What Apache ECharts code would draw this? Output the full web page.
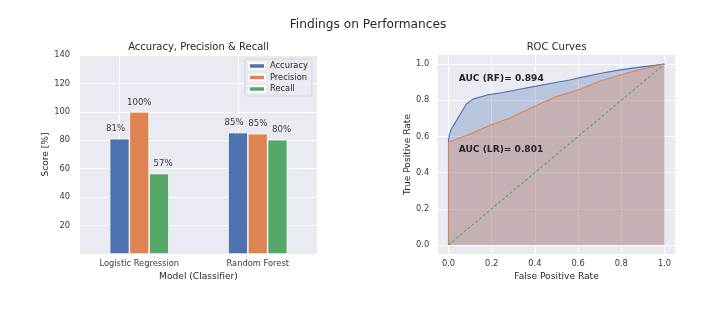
<!DOCTYPE html>
<html>
<head>
<meta charset="utf-8">
<script src="https://cdn.jsdelivr.net/npm/echarts@6/dist/echarts.min.js"></script>
<style>
html,body{margin:0;padding:0;background:#fff;}
#chart{width:720px;height:333px;}
</style>
</head>
<body>
<div id="chart"></div>
<script>
// ---- Data ----
const categories = ['Logistic Regression', 'Random Forest'];
const accuracy = [81.1, 85.4];
const precision = [100, 84.6];
const recall = [56.6, 80.4];
const scoreTicks = [20, 40, 60, 80, 100, 120, 140];

const rfFpr = [0, 0, 0.004, 0.0125, 0.036, 0.059, 0.082, 0.113, 0.175, 0.252, 0.329, 0.406, 0.49, 0.56, 0.61, 0.70, 0.795, 0.887, 1.0];
const rfTpr = [0, 0.575, 0.61, 0.64, 0.686, 0.732, 0.778, 0.806, 0.828, 0.843, 0.861, 0.878, 0.897, 0.912, 0.925, 0.948, 0.968, 0.983, 1.0];
const lrFpr = [0, 0, 0.097, 0.19, 0.282, 0.36, 0.425, 0.50, 0.61, 0.70, 0.795, 0.887, 1.0];
const lrTpr = [0, 0.568, 0.612, 0.66, 0.70, 0.745, 0.78, 0.82, 0.861, 0.905, 0.939, 0.969, 1.0];
const diagX = [0, 1];
const diagY = [0, 1];
const rateTicks = [0, 0.2, 0.4, 0.6, 0.8, 1.0];
const aucRF = 0.894;
const aucLR = 0.801;

// ---- Styles ----
const FONT = '"DejaVu Sans", sans-serif';
const TXT = '#262626';
const TICK = '#3a3a3a';
const BG = '#EAEAF2';
const BLUE = '#4C72B0', ORANGE = '#DD8452', GREEN = '#55A868';

const zip = (a, b) => a.map((v, i) => [v, b[i]]);

function barLabel(dx) {
  return {
    show: true, position: 'top', distance: 5, offset: [dx, 0],
    color: TICK, fontSize: 8.6, fontFamily: FONT,
    formatter: p => Math.round(p.value) + '%'
  };
}
const barItem = c => ({ color: c, borderColor: '#ffffff', borderWidth: 0.7 });

const chart = echarts.init(document.getElementById('chart'), null, { renderer: 'canvas' });
chart.setOption({
  animation: false,
  backgroundColor: '#ffffff',
  textStyle: { fontFamily: FONT },
  title: [
    { text: 'Findings on Performances', left: 368, top: 18.5, textAlign: 'center', padding: 0,
      textStyle: { fontSize: 12.2, fontWeight: 'normal', color: TXT, fontFamily: FONT } },
    { text: 'Accuracy, Precision & Recall', left: 198.5, top: 42, textAlign: 'center', padding: 0,
      textStyle: { fontSize: 10, fontWeight: 'normal', color: TXT, fontFamily: FONT } },
    { text: 'ROC Curves', left: 556.5, top: 42, textAlign: 'center', padding: 0,
      textStyle: { fontSize: 10, fontWeight: 'normal', color: TXT, fontFamily: FONT } }
  ],
  legend: {
    data: ['Accuracy', 'Precision', 'Recall'],
    orient: 'vertical', left: 245, top: 59,
    icon: 'rect', itemWidth: 16, itemHeight: 5.5, itemGap: 1.5,
    padding: [2, 4, 2, 3],
    backgroundColor: 'rgba(234,234,242,0.8)', borderColor: '#cfcfd6', borderWidth: 0.8, borderRadius: 2,
    textStyle: { fontSize: 8.3, color: TXT, fontFamily: FONT, lineHeight: 10 }
  },
  grid: [
    { left: 80, top: 55, width: 237, height: 199, show: true, backgroundColor: BG, borderWidth: 0 },
    { left: 437.7, top: 55, width: 237.6, height: 199, show: true, backgroundColor: BG, borderWidth: 0 }
  ],
  xAxis: [
    { type: 'category', gridIndex: 0, data: categories,
      axisLine: { show: false }, axisTick: { show: false },
      splitLine: { show: false },
      axisLabel: { margin: 5.5, fontSize: 8.3, color: TICK, fontFamily: FONT },
      name: 'Model (Classifier)', nameLocation: 'middle', nameGap: 17,
      nameTextStyle: { fontSize: 9.1, color: TXT, fontFamily: FONT } },
    { type: 'value', gridIndex: 1, min: -0.05, max: 1.05,
      axisLine: { show: false },
      axisTick: { show: false, customValues: rateTicks },
      splitLine: { show: true, lineStyle: { color: '#ffffff', width: 1 } },
      axisLabel: { customValues: rateTicks, margin: 5.5, fontSize: 8.3, color: TICK, fontFamily: FONT,
        formatter: v => v.toFixed(1) },
      name: 'False Positive Rate', nameLocation: 'middle', nameGap: 17,
      nameTextStyle: { fontSize: 9.1, color: TXT, fontFamily: FONT } }
  ],
  yAxis: [
    { type: 'value', gridIndex: 0, min: 0, max: 140, interval: 20,
      axisLine: { show: false }, axisTick: { show: false },
      splitLine: { show: true, lineStyle: { color: '#ffffff', width: 1 } },
      axisLabel: { showMinLabel: false, margin: 10, fontSize: 8.3, color: TICK, fontFamily: FONT },
      name: 'Score [%]', nameLocation: 'middle', nameGap: 29,
      nameTextStyle: { fontSize: 9.1, color: TXT, fontFamily: FONT } },
    { type: 'value', gridIndex: 1, min: -0.05, max: 1.05,
      axisLine: { show: false },
      axisTick: { show: false, customValues: rateTicks },
      splitLine: { show: true, lineStyle: { color: '#ffffff', width: 1 } },
      axisLabel: { customValues: rateTicks, margin: 8.5, fontSize: 8.3, color: TICK, fontFamily: FONT,
        formatter: v => v.toFixed(1) },
      name: 'True Positive Rate', nameLocation: 'middle', nameGap: 24.5,
      nameTextStyle: { fontSize: 9.1, color: TXT, fontFamily: FONT } }
  ],
  series: [
    { name: 'Accuracy', type: 'bar', xAxisIndex: 0, yAxisIndex: 0, data: accuracy, z: 2,
      barGap: '0%', barCategoryGap: '50%', itemStyle: barItem(BLUE), label: barLabel(-4),
      // vertical grid lines through the category centres, kept behind the bars
      markLine: { silent: true, z: 1, symbol: ['none', 'none'], label: { show: false },
        lineStyle: { color: '#ffffff', width: 1, type: 'solid' },
        data: categories.map(c => ({ xAxis: c })) } },
    { name: 'Precision', type: 'bar', xAxisIndex: 0, yAxisIndex: 0, data: precision, z: 2,
      barGap: '0%', barCategoryGap: '50%', itemStyle: barItem(ORANGE), label: barLabel(0) },
    { name: 'Recall', type: 'bar', xAxisIndex: 0, yAxisIndex: 0, data: recall, z: 2,
      barGap: '0%', barCategoryGap: '50%', itemStyle: barItem(GREEN), label: barLabel(4) },
    { name: 'RF', type: 'line', xAxisIndex: 1, yAxisIndex: 1, data: zip(rfFpr, rfTpr),
      showSymbol: false, symbol: 'none', lineStyle: { color: BLUE, width: 1.1 },
      areaStyle: { color: BLUE, opacity: 0.3 }, z: 2 },
    { name: 'LR', type: 'line', xAxisIndex: 1, yAxisIndex: 1, data: zip(lrFpr, lrTpr),
      showSymbol: false, symbol: 'none', lineStyle: { color: ORANGE, width: 1.1 },
      areaStyle: { color: ORANGE, opacity: 0.3 }, z: 3 },
    { name: 'Chance', type: 'line', xAxisIndex: 1, yAxisIndex: 1, data: zip(diagX, diagY),
      showSymbol: false, symbol: 'none', lineStyle: { color: GREEN, width: 1.1, type: [3, 2] }, z: 4 }
  ],
  graphic: [
    { type: 'text', left: 458.7, top: 74, z: 10,
      style: { text: 'AUC (RF)= ' + aucRF.toFixed(3), font: 'bold 9.1px "DejaVu Sans"', fill: TXT } },
    { type: 'text', left: 458.7, top: 145.5, z: 10,
      style: { text: 'AUC (LR)= ' + aucLR.toFixed(3), font: 'bold 9.1px "DejaVu Sans"', fill: TXT } }
  ]
});
</script>
</body>
</html>
